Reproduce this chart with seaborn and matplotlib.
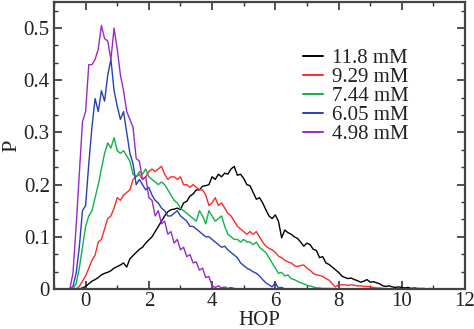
import numpy as np
import pandas as pd
import matplotlib
matplotlib.use("Agg")
import matplotlib.pyplot as plt
from matplotlib.ticker import MultipleLocator
import seaborn as sns

# HOP histogram bins (width 0.1); each series lists P per bin from its first bin
bin_width = 0.1

labels = ["11.8 mM", "9.29 mM", "7.44 mM", "6.05 mM", "4.98 mM"]
colors = ["#000000", "#ff2a2a", "#12b04a", "#2a3fb8", "#9a2ac8"]

start_118 = -0.2
p_118 = [0.0, 0.002, 0.005, 0.01, 0.015, 0.018, 0.022, 0.027, 0.03, 0.032,
         0.035, 0.04, 0.043, 0.046, 0.05, 0.042, 0.058, 0.064, 0.07, 0.076,
         0.08, 0.088, 0.094, 0.1, 0.11, 0.12, 0.13, 0.14, 0.148, 0.152,
         0.153, 0.155, 0.152, 0.165, 0.168, 0.178, 0.182, 0.19, 0.19, 0.197,
         0.198, 0.2, 0.215, 0.21, 0.22, 0.215, 0.222, 0.22, 0.23, 0.235,
         0.218, 0.22, 0.212, 0.2, 0.198, 0.185, 0.172, 0.175, 0.165, 0.152,
         0.14, 0.135, 0.142, 0.13, 0.098, 0.113, 0.108, 0.105, 0.1, 0.097,
         0.09, 0.082, 0.088, 0.085, 0.076, 0.074, 0.06, 0.062, 0.05, 0.047,
         0.042, 0.037, 0.032, 0.025, 0.022, 0.02, 0.021, 0.018, 0.016, 0.013,
         0.015, 0.018, 0.013, 0.014, 0.012, 0.01, 0.006, 0.005, 0.006, 0.004,
         0.003, 0.004, 0.003, 0.002, 0.003, 0.001, 0.002, 0.001, 0.001, 0.001,
         0.0, 0.001, 0.0]

start_929 = -0.3
p_929 = [0.0, 0.005, 0.015, 0.025, 0.04, 0.055, 0.065, 0.09, 0.095, 0.115,
         0.135, 0.14, 0.155, 0.175, 0.17, 0.18, 0.185, 0.19, 0.21, 0.215,
         0.22, 0.21, 0.215, 0.225, 0.23, 0.225, 0.23, 0.235, 0.22, 0.21,
         0.215, 0.215, 0.21, 0.215, 0.2, 0.2, 0.195, 0.2, 0.195, 0.19,
         0.19, 0.18, 0.16, 0.165, 0.175, 0.16, 0.165, 0.155, 0.145, 0.14,
         0.13, 0.12, 0.115, 0.11, 0.105, 0.11, 0.105, 0.11, 0.1, 0.09,
         0.082, 0.078, 0.075, 0.07, 0.063, 0.06, 0.055, 0.052, 0.05, 0.045,
         0.043, 0.045, 0.046, 0.04, 0.036, 0.03, 0.027, 0.026, 0.024, 0.02,
         0.017, 0.01, 0.004, 0.008, 0.008, 0.008, 0.007, 0.008, 0.007, 0.006,
         0.006, 0.005, 0.005, 0.004, 0.003, 0.002, 0.002, 0.001, 0.001, 0.0]

start_744 = -0.4
p_744 = [0.0, 0.01, 0.04, 0.08, 0.12, 0.14, 0.15, 0.175, 0.2, 0.23,
         0.26, 0.28, 0.27, 0.29, 0.265, 0.26, 0.265, 0.255, 0.245, 0.22,
         0.215, 0.225, 0.22, 0.23, 0.215, 0.21, 0.205, 0.2, 0.205, 0.2,
         0.19, 0.18, 0.17, 0.165, 0.155, 0.15, 0.145, 0.14, 0.135, 0.13,
         0.15, 0.14, 0.125, 0.15, 0.14, 0.13, 0.135, 0.14, 0.12, 0.105,
         0.1, 0.095, 0.095, 0.09, 0.095, 0.09, 0.09, 0.085, 0.09, 0.08,
         0.075, 0.07, 0.06, 0.05, 0.04, 0.03, 0.032, 0.025, 0.027, 0.02,
         0.018, 0.015, 0.012, 0.01, 0.007, 0.006, 0.004, 0.002, 0.002, 0.001,
         0.001, 0.001, 0.001, 0.001, 0.0]

start_605 = -0.5
p_605 = [0.0, 0.005, 0.03, 0.08, 0.15, 0.16, 0.24, 0.31, 0.365, 0.34,
         0.38, 0.36, 0.41, 0.44, 0.38, 0.35, 0.325, 0.34, 0.3, 0.26,
         0.24, 0.2, 0.21, 0.2, 0.19, 0.195, 0.18, 0.17, 0.165, 0.155,
         0.15, 0.14, 0.14, 0.145, 0.15, 0.14, 0.135, 0.13, 0.12, 0.12,
         0.115, 0.11, 0.105, 0.1, 0.1, 0.095, 0.09, 0.085, 0.08, 0.082,
         0.075, 0.07, 0.065, 0.06, 0.05, 0.045, 0.04, 0.037, 0.033, 0.03,
         0.025, 0.018, 0.012, 0.008, 0.004, 0.012, 0.002, 0.003, 0.0]

start_498 = -0.5
p_498 = [0.0, 0.03, 0.12, 0.22, 0.32, 0.34, 0.43, 0.43, 0.44, 0.46,
         0.505, 0.48, 0.475, 0.44, 0.5, 0.46, 0.41, 0.38, 0.34, 0.325,
         0.31, 0.25, 0.245, 0.21, 0.215, 0.175, 0.17, 0.14, 0.15, 0.125,
         0.13, 0.105, 0.11, 0.088, 0.095, 0.075, 0.08, 0.062, 0.066, 0.05,
         0.052, 0.036, 0.04, 0.022, 0.024, 0.006, 0.003, 0.006, 0.002, 0.004,
         0.001, 0.003, 0.001, 0.0]

series = [(labels[0], start_118, p_118), (labels[1], start_929, p_929),
          (labels[2], start_744, p_744), (labels[3], start_605, p_605),
          (labels[4], start_498, p_498)]

frames = []
for name, start, vals in series:
    hop = np.round(start + bin_width * np.arange(len(vals)), 2)
    frames.append(pd.DataFrame({"HOP": hop, "P": vals, "conc": name}))
df = pd.concat(frames, ignore_index=True)

sns.set_theme(style="ticks")
plt.rcParams["font.family"] = ["Liberation Serif", "DejaVu Serif"]

fig = plt.figure(figsize=(4.74, 3.29), dpi=100)
ax = fig.add_axes([54 / 474, 1 - 289 / 329, (465 - 54) / 474, (289 - 2) / 329])

sns.lineplot(data=df, x="HOP", y="P", hue="conc", hue_order=labels,
             palette=dict(zip(labels, colors)), linewidth=1.0, ax=ax,
             estimator=None, sort=False)

ax.set_xlim(-1, 12)
ax.set_ylim(0, 0.55)
ax.xaxis.set_minor_locator(MultipleLocator(1))
ax.yaxis.set_minor_locator(MultipleLocator(0.1 / 3))
ax.set_yticks([0, 0.1, 0.2, 0.3, 0.4, 0.5])
ax.set_yticklabels(["0", "0.1", "0.2", "0.3", "0.4", "0.5"])
ax.set_xticks([0, 2, 4, 6, 8, 10, 12])
ax.set_xticklabels(["0", "2", "4", "6", "8", "10", "12"])

ax.tick_params(which="both", direction="in", top=True, right=True,
               color="#333333", labelsize=15, labelcolor="#222222")
ax.tick_params(which="major", length=6, width=1.2, pad=3)
ax.tick_params(axis="x", which="major", pad=2)
ax.tick_params(which="minor", length=3, width=1.0)
for sp in ax.spines.values():
    sp.set_linewidth(1.6)
    sp.set_color("#444444")

ax.set_xlabel("HOP", fontsize=15, color="#222222", labelpad=0)
ax.set_ylabel("P", fontsize=16, color="#222222", labelpad=2)

leg = ax.legend(loc="upper left", bbox_to_anchor=(0.585, 0.868), frameon=False,
                fontsize=15, handlelength=0.95, handletextpad=0.45,
                labelspacing=-0.02, borderaxespad=0)
for t in leg.get_texts():
    t.set_color("#222222")
for line in leg.get_lines():
    line.set_linewidth(1.4)

fig.savefig("out.png", dpi=100)
